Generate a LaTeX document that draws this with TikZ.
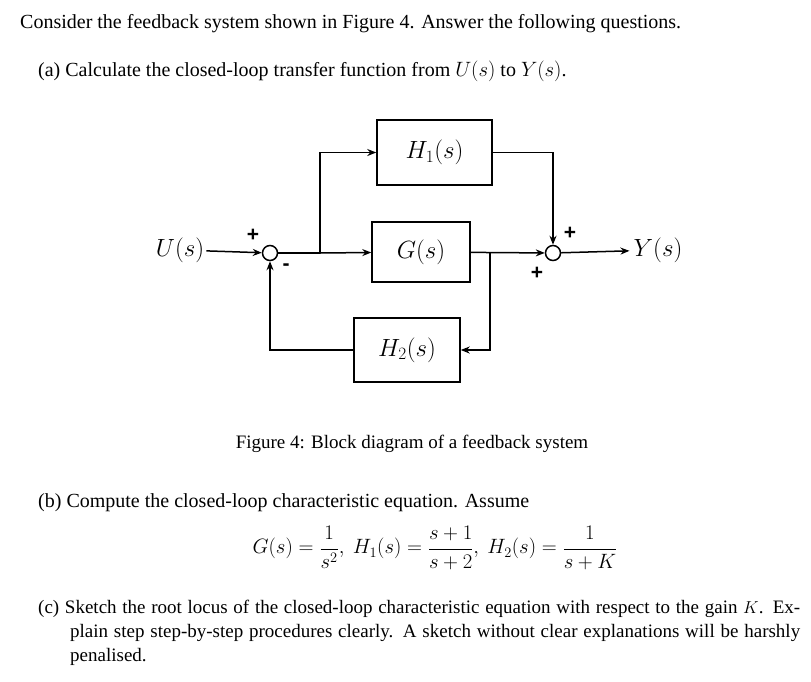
\documentclass[tikz,border=0pt]{standalone}
\usepackage{fontspec}
\setmainfont{Liberation Serif}
\setsansfont{Liberation Sans}
\usetikzlibrary{arrows.meta}
\begin{document}
\begin{tikzpicture}[x=1pt,y=-1pt,
  blk/.style={draw,line width=1.5pt,minimum width=#1,inner sep=0pt,font=\fontsize{27}{30}\selectfont},
  sum/.style={draw,circle,line width=1.5pt,minimum size=15pt,inner sep=0pt},
  ln/.style={line width=1.5pt},
  ar/.style={ln,-{Stealth[length=9pt,width=7pt]}},
  sg/.style={font=\sffamily\bfseries\fontsize{21}{21}\selectfont,inner sep=0pt},
  txt/.style={anchor=base west,inner sep=0pt,font=\fontsize{20}{24}\selectfont},
  ctxt/.style={anchor=base west,inner sep=0pt,font=\fontsize{19}{24}\selectfont}]
\useasboundingbox (0,0) rectangle (811,681);
\node[txt] (t0) at (20,28) {Consider the feedback system shown in Figure 4. Answer the following questions.};
\node[txt] (ta) at (38,76) {(a) Calculate the closed-loop transfer function from \(U(s)\) to \(Y(s)\).};
\node[blk=115pt,minimum height=65pt] (h1) at (434.5,152.5) {\(H_1(s)\)};
\node[blk=98pt,minimum height=60pt] (g) at (421,252) {\(G(s)\)};
\node[blk=106pt,minimum height=64pt] (h2) at (407,350) {\(H_2(s)\)};
\node[sum] (s1) at (270,253) {};
\node[sum] (s2) at (553,253) {};
\node[inner sep=2pt,font=\fontsize{27}{30}\selectfont] (u) at (180,250) {\(U(s)\)};
\node[inner sep=4pt,font=\fontsize{27}{30}\selectfont] (y) at (658,250) {\(Y(s)\)};
\coordinate (b1) at (320,253);
\coordinate (b2) at (490,253);
\draw[ar] (u) -- (s1);
\draw[ln] (s1) -- (b1);
\draw[ar] (b1) -- (g);
\draw[ar] (b1) |- (h1);
\draw[ar] (h1) -| (s2);
\draw[ar] (g) -- (s2);
\draw[ar] (b2) |- (h2);
\draw[ar] (h2) -| (s1);
\draw[ar] (s2) -- (y);
\node[sg] (p1) at (253,235) {+};
\node[sg] (m1) at (286,267) {-};
\node[sg] (p2) at (570,233) {+};
\node[sg] (p3) at (537,273) {+};
\node[inner sep=0pt,font=\fontsize{19}{24}\selectfont] (cap) at (412,444) {Figure 4: Block diagram of a feedback system};
\node[txt] (tb) at (38,507) {(b) Compute the closed-loop characteristic equation. Assume};
\node[inner sep=0pt,font=\fontsize{19.5}{22}\selectfont] (eq) at (435,548) {\(\displaystyle G(s)=\frac{1}{s^2},\ H_1(s)=\frac{s+1}{s+2},\ H_2(s)=\frac{1}{s+K}\)};
\node[ctxt] (c1) at (38,613) {\makebox[762pt][s]{(c) Sketch the root locus of the closed-loop characteristic equation with respect to the gain \(K\). Ex-}};
\node[ctxt] (c2) at (70,637) {\makebox[730pt][s]{plain step step-by-step procedures clearly. A sketch without clear explanations will be harshly}};
\node[ctxt] (c3) at (70,661) {penalised.};
\end{tikzpicture}
\end{document}
